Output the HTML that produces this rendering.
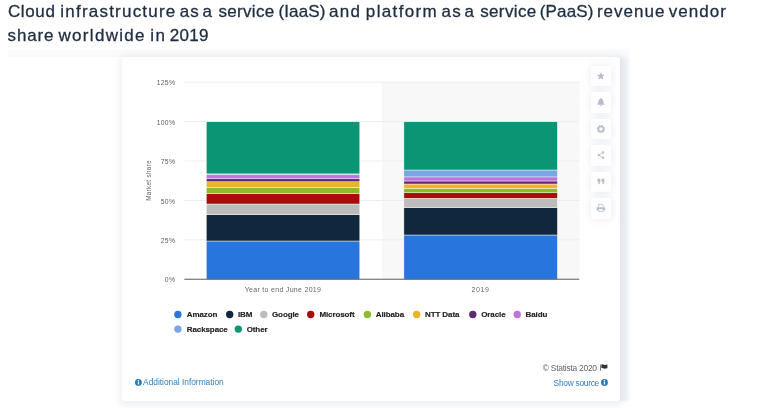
<!DOCTYPE html>
<html><head><meta charset="utf-8">
<title>Cloud IaaS and PaaS vendor share 2019</title>
<style>
html,body{margin:0;padding:0;background:#fff;}
body{width:768px;height:408px;overflow:hidden;position:relative;font-family:"Liberation Sans",sans-serif;}
h1{position:absolute;left:0;top:0;margin:0;width:768px;height:48px;font-size:17px;line-height:24px;font-weight:400;color:#1f2d41;-webkit-text-stroke:0.3px #1f2d41;white-space:nowrap;}
h1 span{position:absolute;white-space:nowrap}
.card{position:absolute;left:122.3px;top:56.6px;width:497.5px;height:344px;background:#fff;border-radius:3px;box-shadow:0 2px 6px 3px rgba(125,138,165,0.12);}
.strip{filter:blur(1.3px);position:absolute;left:617px;top:56.6px;width:12.6px;height:344.5px;border-radius:3px;background:linear-gradient(to right,#eef1f5 0%,#eff2f6 78%,rgba(243,245,248,1) 90%,rgba(255,255,255,0) 100%);}
.band{position:absolute;left:8px;top:47.5px;width:621px;height:9.1px;background:linear-gradient(to bottom,rgba(249,250,252,0) 0%,rgba(249,250,252,1) 30%,rgba(248,249,251,1) 100%);}
.chart{position:absolute;left:0;top:0;}
svg text{font-family:"Liberation Sans",sans-serif;}
.btn{position:absolute;left:591px;width:20px;height:20.4px;background:#fff;border-radius:2px;box-shadow:0 0 8px rgba(150,165,190,0.24);}
.btn svg{display:block}
.foot{position:absolute;font-size:8.4px;line-height:10px;white-space:nowrap;letter-spacing:-0.23px}
.blue{color:#3380bc}
.grey{color:#636363}
.ico{position:absolute}
</style></head>
<body>
<h1><span style="left:7.96px;top:0px;letter-spacing:0.63px">Cloud</span> <span style="left:60.36px;top:0px;letter-spacing:1.21px">infrastructure</span> <span style="left:179.84px;top:0px;letter-spacing:1.08px">as</span> <span style="left:202.61px;top:0px;letter-spacing:0.50px">a</span> <span style="left:218.42px;top:0px;letter-spacing:0.32px">service</span> <span style="left:278.44px;top:0px;letter-spacing:0.15px">(IaaS)</span> <span style="left:328.97px;top:0px;letter-spacing:1.35px">and</span> <span style="left:365.83px;top:0px;letter-spacing:1.35px">platform</span> <span style="left:441.61px;top:0px;letter-spacing:1.21px">as</span> <span style="left:464.45px;top:0px;letter-spacing:0.50px">a</span> <span style="left:480.17px;top:0px;letter-spacing:0.38px">service</span> <span style="left:539.79px;top:0px;letter-spacing:0.15px">(PaaS)</span> <span style="left:596.88px;top:0px;letter-spacing:1.02px">revenue</span> <span style="left:668.76px;top:0px;letter-spacing:1.03px">vendor</span> <span style="left:7.56px;top:24px;letter-spacing:0.85px">share</span> <span style="left:58.51px;top:24px;letter-spacing:1.31px">worldwide</span> <span style="left:150.37px;top:24px;letter-spacing:1.35px">in</span> <span style="left:169.82px;top:24px;letter-spacing:0.31px">2019</span></h1>
<div class="band"></div>
<div class="strip"></div>
<div class="card"></div>
<div class="chart"><svg width="768" height="408" viewBox="0 0 768 408">
<rect x="381.8" y="82.2" width="197.5" height="197.1" fill="#f8f8f8"/>
<rect x="184.3" y="239.38" width="395.0" height="1" fill="#eeeeee"/>
<rect x="184.3" y="199.95" width="395.0" height="1" fill="#eeeeee"/>
<rect x="184.3" y="160.52" width="395.0" height="1" fill="#eeeeee"/>
<rect x="184.3" y="121.10" width="395.0" height="1" fill="#eeeeee"/>
<rect x="184.3" y="81.67" width="395.0" height="1" fill="#eeeeee"/>
<rect x="206.3" y="241.00" width="153.5" height="38.50" fill="#2875dd" stroke="#fff" stroke-width="0.45"/>
<rect x="206.3" y="214.60" width="153.5" height="26.40" fill="#10273d" stroke="#fff" stroke-width="0.45"/>
<rect x="206.3" y="204.00" width="153.5" height="10.60" fill="#bcbcbc" stroke="#fff" stroke-width="0.45"/>
<rect x="206.3" y="193.40" width="153.5" height="10.60" fill="#aa0c0c" stroke="#fff" stroke-width="0.45"/>
<rect x="206.3" y="187.60" width="153.5" height="5.80" fill="#8dbb2b" stroke="#fff" stroke-width="0.45"/>
<rect x="206.3" y="181.80" width="153.5" height="5.80" fill="#ecb22c" stroke="#fff" stroke-width="0.45"/>
<rect x="206.3" y="178.80" width="153.5" height="3.00" fill="#5b2a7a" stroke="#fff" stroke-width="0.45"/>
<rect x="206.3" y="174.80" width="153.5" height="4.00" fill="#c273db" stroke="#fff" stroke-width="0.45"/>
<rect x="206.3" y="173.90" width="153.5" height="0.90" fill="#79a6e4" stroke="#fff" stroke-width="0.45"/>
<rect x="206.3" y="121.80" width="153.5" height="52.10" fill="#0c9575" stroke="#fff" stroke-width="0.45"/>
<rect x="403.9" y="235.00" width="153.5" height="44.50" fill="#2875dd" stroke="#fff" stroke-width="0.45"/>
<rect x="403.9" y="207.50" width="153.5" height="27.50" fill="#10273d" stroke="#fff" stroke-width="0.45"/>
<rect x="403.9" y="198.30" width="153.5" height="9.20" fill="#bcbcbc" stroke="#fff" stroke-width="0.45"/>
<rect x="403.9" y="192.80" width="153.5" height="5.50" fill="#aa0c0c" stroke="#fff" stroke-width="0.45"/>
<rect x="403.9" y="188.20" width="153.5" height="4.60" fill="#8dbb2b" stroke="#fff" stroke-width="0.45"/>
<rect x="403.9" y="184.00" width="153.5" height="4.20" fill="#ecb22c" stroke="#fff" stroke-width="0.45"/>
<rect x="403.9" y="181.00" width="153.5" height="3.00" fill="#5b2a7a" stroke="#fff" stroke-width="0.45"/>
<rect x="403.9" y="176.90" width="153.5" height="4.10" fill="#c273db" stroke="#fff" stroke-width="0.45"/>
<rect x="403.9" y="170.00" width="153.5" height="6.90" fill="#79a6e4" stroke="#fff" stroke-width="0.45"/>
<rect x="403.9" y="121.80" width="153.5" height="48.20" fill="#0c9575" stroke="#fff" stroke-width="0.45"/>
<rect x="184.3" y="278.70" width="395.0" height="1.1" fill="#6a6a6a"/>
<text x="175.3" y="282.4" text-anchor="end" font-size="6.8" fill="#5e5e5e" letter-spacing="0.3">0%</text>
<text x="175.3" y="243.0" text-anchor="end" font-size="6.8" fill="#5e5e5e" letter-spacing="0.3">25%</text>
<text x="175.3" y="203.5" text-anchor="end" font-size="6.8" fill="#5e5e5e" letter-spacing="0.3">50%</text>
<text x="175.3" y="164.1" text-anchor="end" font-size="6.8" fill="#5e5e5e" letter-spacing="0.3">75%</text>
<text x="175.3" y="124.7" text-anchor="end" font-size="6.8" fill="#5e5e5e" letter-spacing="0.3">100%</text>
<text x="175.3" y="85.3" text-anchor="end" font-size="6.8" fill="#5e5e5e" letter-spacing="0.3">125%</text>
<text transform="translate(150.6,180.5) rotate(-90)" text-anchor="middle" font-size="6.3" fill="#666" letter-spacing="0.32">Market share</text>
<text x="283" y="291.6" text-anchor="middle" font-size="7" fill="#666" letter-spacing="0.3">Year to end June 2019</text>
<text x="480.5" y="291.6" text-anchor="middle" font-size="7" fill="#666" letter-spacing="0.6">2019</text>
<circle cx="177.9" cy="314.5" r="3.7" fill="#2875dd"/>
<text x="186.8" y="317.4" font-size="8" font-weight="700" fill="#222" stroke="#222" stroke-width="0.15" letter-spacing="-0.1">Amazon</text>
<circle cx="229.7" cy="314.5" r="3.7" fill="#10273d"/>
<text x="238.0" y="317.4" font-size="8" font-weight="700" fill="#222" stroke="#222" stroke-width="0.15" letter-spacing="-0.1">IBM</text>
<circle cx="263.8" cy="314.5" r="3.7" fill="#bcbcbc"/>
<text x="272.0" y="317.4" font-size="8" font-weight="700" fill="#222" stroke="#222" stroke-width="0.15" letter-spacing="-0.1">Google</text>
<circle cx="310.7" cy="314.5" r="3.7" fill="#aa0c0c"/>
<text x="319.4" y="317.4" font-size="8" font-weight="700" fill="#222" stroke="#222" stroke-width="0.15" letter-spacing="-0.1">Microsoft</text>
<circle cx="367.4" cy="314.5" r="3.7" fill="#8dbb2b"/>
<text x="375.8" y="317.4" font-size="8" font-weight="700" fill="#222" stroke="#222" stroke-width="0.15" letter-spacing="-0.1">Alibaba</text>
<circle cx="416.7" cy="314.5" r="3.7" fill="#ecb22c"/>
<text x="425.0" y="317.4" font-size="8" font-weight="700" fill="#222" stroke="#222" stroke-width="0.15" letter-spacing="-0.1">NTT Data</text>
<circle cx="472.8" cy="314.5" r="3.7" fill="#5b2a7a"/>
<text x="481.2" y="317.4" font-size="8" font-weight="700" fill="#222" stroke="#222" stroke-width="0.15" letter-spacing="-0.1">Oracle</text>
<circle cx="517.2" cy="314.5" r="3.7" fill="#c273db"/>
<text x="525.6" y="317.4" font-size="8" font-weight="700" fill="#222" stroke="#222" stroke-width="0.15" letter-spacing="-0.1">Baidu</text>
<circle cx="177.9" cy="329.1" r="3.7" fill="#79a6e4"/>
<text x="186.8" y="332.0" font-size="8" font-weight="700" fill="#222" stroke="#222" stroke-width="0.15" letter-spacing="-0.1">Rackspace</text>
<circle cx="238.3" cy="329.1" r="3.7" fill="#0c9575"/>
<text x="246.7" y="332.0" font-size="8" font-weight="700" fill="#222" stroke="#222" stroke-width="0.15" letter-spacing="-0.1">Other</text>
</svg></div>
<div class="btn" style="top:65.8px"><svg width="20" height="20" viewBox="-10 -10 20 20"><g transform="translate(-0.1,0) scale(1.15)"><path d="M0,-3.3 L0.95,-1.05 L3.4,-0.85 L1.55,0.75 L2.1,3.15 L0,1.9 L-2.1,3.15 L-1.55,0.75 L-3.4,-0.85 L-0.95,-1.05 Z" fill="#b6becc"/></g></svg></div>
<div class="btn" style="top:92.3px"><svg width="20" height="20" viewBox="-10 -10 20 20"><g transform="translate(-0.1,0) scale(1.15)"><path d="M0,-3.4 C0.4,-3.4 0.6,-3.1 0.6,-2.8 C1.7,-2.4 2.2,-1.4 2.2,-0.2 C2.2,0.9 2.6,1.5 3,1.9 L3,2.3 L-3,2.3 L-3,1.9 C-2.6,1.5 -2.2,0.9 -2.2,-0.2 C-2.2,-1.4 -1.7,-2.4 -0.6,-2.8 C-0.6,-3.1 -0.4,-3.4 0,-3.4 Z M-0.8,2.7 L0.8,2.7 C0.8,3.2 0.4,3.5 0,3.5 C-0.4,3.5 -0.8,3.2 -0.8,2.7 Z" fill="#b6becc"/></g></svg></div>
<div class="btn" style="top:118.8px"><svg width="20" height="20" viewBox="-10 -10 20 20"><g transform="translate(-0.1,0.1) scale(1.15)"><circle r="2.3" fill="none" stroke="#b6becc" stroke-width="1.5"/><circle r="3.1" fill="none" stroke="#b6becc" stroke-width="0.9" stroke-dasharray="1.2 1.23"/></g></svg></div>
<div class="btn" style="top:145.3px"><svg width="20" height="20" viewBox="-10 -10 20 20"><g transform="translate(-0.1,0.1) scale(1.15)"><path d="M1.8,-2.2 L-1.9,0 L1.8,2.2" fill="none" stroke="#b6becc" stroke-width="0.7"/><circle cx="1.9" cy="-2.2" r="1.05" fill="#b6becc"/><circle cx="-1.9" cy="0" r="1.05" fill="#b6becc"/><circle cx="1.9" cy="2.2" r="1.05" fill="#b6becc"/></g></svg></div>
<div class="btn" style="top:171.8px"><svg width="20" height="20" viewBox="-10 -10 20 20"><g transform="translate(-0.1,-0.4) scale(1.15)"><path d="M-3,-2.4 h2.5 v2.6 c0,1.3 -0.8,2.1 -2.1,2.3 v-0.9 c0.6,-0.2 0.9,-0.6 0.9,-1.3 h-1.3 z M0.5,-2.4 h2.5 v2.6 c0,1.3 -0.8,2.1 -2.1,2.3 v-0.9 c0.6,-0.2 0.9,-0.6 0.9,-1.3 h-1.3 z" fill="#b6becc"/></g></svg></div>
<div class="btn" style="top:198.3px"><svg width="20" height="20" viewBox="-10 -10 20 20"><g transform="translate(-0.1,-0.1) scale(1.15)"><path d="M-1.9,-0.6 v-2.6 h3 l0.8,0.8 v1.8" fill="none" stroke="#b6becc" stroke-width="0.7"/><path d="M-3.2,-0.6 h6.4 c0.3,0 0.5,0.2 0.5,0.5 v2.3 h-1.5 v-1.1 h-4.4 v1.1 h-1.5 v-2.3 c0,-0.3 0.2,-0.5 0.5,-0.5 z" fill="#b6becc"/><path d="M-1.9,1.6 v1.6 h3.8 v-1.6" fill="none" stroke="#b6becc" stroke-width="0.7"/></g></svg></div>
<svg class="ico" style="left:134.5px;top:378.9px;overflow:visible" width="6.8" height="6.8" viewBox="0 0 10 10"><circle cx="5" cy="5" r="5" fill="#2c7ab8"/><rect x="4.1" y="4" width="1.9" height="4" fill="#fff"/><circle cx="5" cy="2.5" r="1.1" fill="#fff"/></svg>
<div class="foot blue" id="ai" style="left:143.1px;top:377.3px;letter-spacing:-0.02px">Additional Information</div>
<div class="foot grey" id="st" style="left:542.8px;top:362.5px">© Statista 2020</div>
<svg class="ico" style="left:600.2px;top:364px" width="7.6" height="6.8" viewBox="0 0 7.6 6.8"><rect x="0" y="0.6" width="0.8" height="6" fill="#555"/><path d="M1.4,0.5 C2.6,-0.2 3.6,1.2 4.8,0.9 C5.6,0.7 6.4,0.3 7.4,0.4 L7.4,4.2 C6.4,4.1 5.6,4.5 4.8,4.7 C3.6,5 2.6,3.6 1.4,4.3 Z" fill="#333"/></svg>
<div class="foot blue" id="ss" style="left:553.6px;top:377.7px;letter-spacing:-0.28px">Show source</div>
<svg class="ico" style="left:600.7px;top:379.1px;overflow:visible" width="6.9" height="6.9" viewBox="0 0 10 10"><circle cx="5" cy="5" r="5" fill="#2c7ab8"/><rect x="4.1" y="4" width="1.9" height="4" fill="#fff"/><circle cx="5" cy="2.5" r="1.1" fill="#fff"/></svg>
</body></html>
